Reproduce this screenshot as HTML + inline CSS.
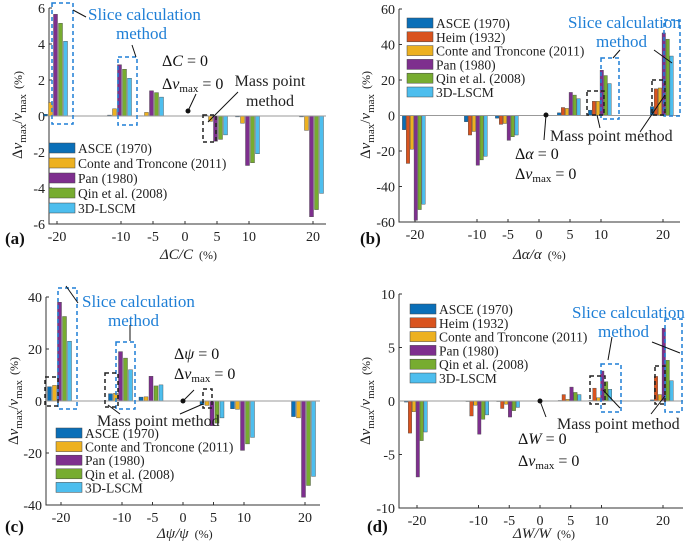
<!DOCTYPE html>
<html><head><meta charset="utf-8"><style>
body{margin:0;background:#fff}
svg{display:block;font-family:"Liberation Serif",serif}
</style></head><body>
<svg id="c" width="685" height="547" viewBox="0 0 685 547" xmlns="http://www.w3.org/2000/svg"></svg>
<script>
const categories=[-20,-10,-5,5,10,20];
const xTicks=[-20,-10,-5,0,5,10,20];
const colors={ASCE:'#0a6fb8',Heim:'#d9531e',Conte:'#edb120',Pan:'#7e2f8e',Qin:'#77ac30',LSCM:'#4dbeee'};
const legendNames={ASCE:'ASCE (1970)',Heim:'Heim (1932)',Conte:'Conte and Troncone (2011)',Pan:'Pan (1980)',Qin:'Qin et al. (2008)',LSCM:'3D-LSCM'};
// panel a
const aASCE=[0.1,0.05,0.02,0.05,-0.05,-0.05];
const aConte=[0.75,0.4,0.2,-0.3,-0.4,-0.8];
const aPan=[5.65,2.85,1.4,-1.4,-2.75,-5.6];
const aQin=[5.15,2.6,1.3,-1.3,-2.6,-5.2];
const aLSCM=[4.15,2.1,1.05,-1.05,-2.1,-4.3];
const aYTicks=[-6,-4,-2,0,2,4,6];
// panel b
const bASCE=[-8,-3.5,-1.5,1.5,3,5];
const bHeim=[-27,-11,-5,4.5,8,15];
const bConte=[-19,-9,-4.5,4,8,15.5];
const bPan=[-59,-28,-14,13,25.5,46.5];
const bQin=[-53,-25,-12,11.5,22.5,43];
const bLSCM=[-50,-23,-11,9.5,18,33.5];
const bYTicks=[-60,-40,-20,0,20,40,60];
// panel c
const cASCE=[5.5,2.8,1.5,-1.5,-3,-6];
const cConte=[6,3,1.6,-1.7,-3.2,-6.5];
const cPan=[38,19,9.5,-9.5,-19,-37];
const cQin=[32.5,16.5,5.8,-8.5,-16.5,-32.5];
const cLSCM=[23,12,6.2,-6.5,-14,-29];
const cYTicks=[-40,-20,0,20,40];
// panel d
const dASCE=[-0.1,-0.05,-0.05,0.05,0.05,0.1];
const dHeim=[-3,-1.4,-0.7,0.6,1.2,2.3];
const dConte=[-1,-0.4,-0.3,0.15,0.3,0.6];
const dPan=[-7.1,-3.1,-1.5,1.3,2.8,6.8];
const dQin=[-3.7,-1.7,-0.9,0.8,1.8,3.8];
const dLSCM=[-2.9,-1.3,-0.6,0.6,1.1,1.9];
const dYTicks=[-10,-5,0,5,10];

const svg=document.getElementById('c');
const NS='http://www.w3.org/2000/svg';
function mk(tag,attrs,parent){const e=document.createElementNS(NS,tag);for(const k in attrs)e.setAttribute(k,attrs[k]);(parent||svg).appendChild(e);return e;}

const panels=[
 {id:'a',x0:49,x1:326,yTop:8,yBot:224,ymin:-6,ymax:6,zx:185,sx:6.4,bw:4,sp:5,yt:aYTicks,
  series:[['ASCE',aASCE],['Conte',aConte],['Pan',aPan],['Qin',aQin],['LSCM',aLSCM]],
  leg:{x:49,y:143,dy:15},lab:'(a)',labx:5,laby:244,xl:'ΔC/C',xlx:160,xly:259,yl:{x:22,y:115}},
 {id:'b',x0:399,x1:680,yTop:9,yBot:222,ymin:-60,ymax:60,zx:539,sx:6.2,bw:3.4,sp:3.9,yt:bYTicks,
  series:[['ASCE',bASCE],['Heim',bHeim],['Conte',bConte],['Pan',bPan],['Qin',bQin],['LSCM',bLSCM]],
  leg:{x:407,y:18,dy:13.8},lab:'(b)',labx:360,laby:244,xl:'Δα/α',xlx:513,xly:259,yl:{x:370,y:115}},
 {id:'c',x0:46,x1:320,yTop:297,yBot:505,ymin:-40,ymax:40,zx:183,sx:6.1,bw:4,sp:5,yt:cYTicks,
  series:[['ASCE',cASCE],['Conte',cConte],['Pan',cPan],['Qin',cQin],['LSCM',cLSCM]],
  leg:{x:56,y:428,dy:13.6},lab:'(c)',labx:5,laby:532,xl:'Δψ/ψ',xlx:157,xly:538,yl:{x:18,y:401}},
 {id:'d',x0:399,x1:683,yTop:294,yBot:508,ymin:-10,ymax:10,zx:540,sx:6.15,bw:3.4,sp:3.9,yt:dYTicks,
  series:[['ASCE',dASCE],['Heim',dHeim],['Conte',dConte],['Pan',dPan],['Qin',dQin],['LSCM',dLSCM]],
  leg:{x:410,y:304,dy:13.8},lab:'(d)',labx:367,laby:532,xl:'ΔW/W',xlx:513,xly:538,yl:{x:370,y:401}}
];

panels.forEach(p=>{
  const g=mk('g',{});
  
  
  const yS=v=>p.yBot-(v-p.ymin)/(p.ymax-p.ymin)*(p.yBot-p.yTop);
  const xS=v=>p.zx+p.sx*v;
  // axes
  const ax=mk('path',{d:`M${p.x0},${p.yTop}V${p.yBot}H${p.x1}`,stroke:'#333',fill:'none','stroke-width':1},g);
  
  
  p.yt.forEach(t=>{
    mk('line',{x1:p.x0,x2:p.x0+3,y1:yS(t),y2:yS(t),stroke:'#333'},g);
    const tx=mk('text',{x:p.x0-4,y:yS(t)+5,'text-anchor':'end','font-size':14,fill:'#222'},g);
    tx.textContent=t;
    
    
  });
  xTicks.forEach(t=>{
    mk('line',{x1:xS(t),x2:xS(t),y1:p.yBot,y2:p.yBot-3,stroke:'#333'},g);
    const tx=mk('text',{x:xS(t),y:p.yBot+17,'text-anchor':'middle','font-size':14,fill:'#222'},g);
    tx.textContent=t;
    
    
  });
  const n=p.series.length;
  p.series.forEach(([key,vals],si)=>{
    vals.forEach((v,ci)=>{
      const cx=xS(categories[ci])+(si-(n-1)/2-0.3)*p.sp;
      const y0=yS(0),y1=yS(v);
      const r=mk('rect',{x:cx-p.bw/2,y:Math.min(y0,y1),width:p.bw,height:Math.max(0.5,Math.abs(y1-y0)),fill:colors[key],stroke:'#444','stroke-width':0.4},g);
      
      
    });
    const ly=p.leg.y+si*p.leg.dy;
    const sw=mk('rect',{x:p.leg.x,y:ly,width:26,height:10,fill:colors[key],stroke:'#444','stroke-width':0.5},g);
    
    
    const lt=mk('text',{x:p.leg.x+29,y:ly+10,'font-size':13.5,fill:'#222'},g);
    lt.textContent=legendNames[key];
    
    
  });
  mk('line',{x1:p.x0,x2:p.x1,y1:yS(0),y2:yS(0),stroke:'#999','stroke-width':1},g);
  const lb=mk('text',{x:p.labx,y:p.laby,'font-size':17,'font-weight':'bold',fill:'#111'},g);
  lb.textContent=p.lab;
  
  
  const xl=mk('text',{x:p.xlx,y:p.xly,'font-size':15,fill:'#222'},g);
  xl.innerHTML='<tspan font-style="italic">'+p.xl+'</tspan><tspan font-size="12" dx="6">(%)</tspan>';
  
  
  const yl=mk('text',{x:0,y:0,'font-size':15,fill:'#222','text-anchor':'middle',transform:`translate(${p.yl.x},${p.yl.y}) rotate(-90)`},g);
  yl.innerHTML='Δ<tspan font-style="italic">v</tspan><tspan font-size="11" dy="4">max</tspan><tspan dy="-4">/</tspan><tspan font-style="italic">v</tspan><tspan font-size="11" dy="4">max</tspan><tspan font-size="12" dy="-4" dx="5">(%)</tspan>';
  
  
});

// annotations
const ann=mk('g',{});


function brect(x,y,w,h,c){mk('rect',{x,y,width:w,height:h,fill:'none',stroke:c,'stroke-width':1.5,'stroke-dasharray':'4,3'},ann);}
function line(x1,y1,x2,y2){mk('line',{x1,y1,x2,y2,stroke:'#111','stroke-width':1},ann);}
function txt(x,y,s,c,fs,anchor){const t=mk('text',{x,y,'font-size':fs||16,fill:c||'#111','text-anchor':anchor||'start'},ann);t.innerHTML=s;return t;}
function dot(x,y){mk('circle',{cx:x,cy:y,r:2.5,fill:'#111'},ann);}
const BL='#1f7fd6',BK='#222';
const eq0='Δ<tspan font-style="italic">v</tspan><tspan font-size="11" dy="3">max</tspan><tspan dy="-3"> = 0</tspan>';
// a
brect(52,3,21,121,BL);brect(118,57,19,68,BL);
txt(88,20,'Slice calculation',BL,17);txt(116,39,'method',BL,17);
line(73,10,86,17);line(132,45,136,57);
txt(162,66,'Δ<tspan font-style="italic">C</tspan> = 0');txt(162,89,eq0);
dot(188,111);line(188,111,196,94);
txt(270,86,'Mass point',BK,16,'middle');txt(270,106,'method',BK,16,'middle');
brect(203,115,13,27,BK);line(208,122,238,92);
// b
brect(601,58,18,61,BL);brect(664,20,16,96,BL);
txt(568,28,'Slice calculation',BL,17);txt(596,47,'method',BL,17);
line(613,58,620,50);line(654,50,672,63);
brect(587,91,17,24,BK);brect(652,80,13,35,BK);
txt(550,141,'Mass point method',BK,16);
line(597,115,600,128);line(640,132,665,95);
dot(546,115);line(546,115,544,140);
txt(515,159,'Δ<tspan font-style="italic">α</tspan> = 0');txt(515,179,eq0);
// c
brect(58,288,19,121,BL);brect(116,342,19,67,BL);
txt(82,307,'Slice calculation',BL,17);txt(108,326,'method',BL,17);
line(66,286,78,303);line(130,341,130,325);
txt(174,359,'Δ<tspan font-style="italic">ψ</tspan> = 0');txt(174,379,eq0);
dot(183,401);line(183,401,194,390);
brect(45,377,13,29,BK);brect(105,373,13,34,BK);brect(203,389,9,19,BK);
txt(97,426,'Mass point method',BK,16);
line(108,405,120,414);line(203,404,180,414);
// d
brect(601,364,20,48,BL);brect(665,319,17,93,BL);
txt(572,318,'Slice calculation',BL,17);txt(598,337,'method',BL,17);
line(612,337,608,360);line(652,342,680,353);
brect(590,376,15,28,BK);brect(655,366,10,38,BK);
txt(557,429,'Mass point method',BK,16);
line(603,390,620,408);line(651,414,665,396);
dot(540,401);line(540,401,546,417);
txt(518,444,'Δ<tspan font-style="italic">W</tspan> = 0');txt(518,466,eq0);
</script>
</body></html>
